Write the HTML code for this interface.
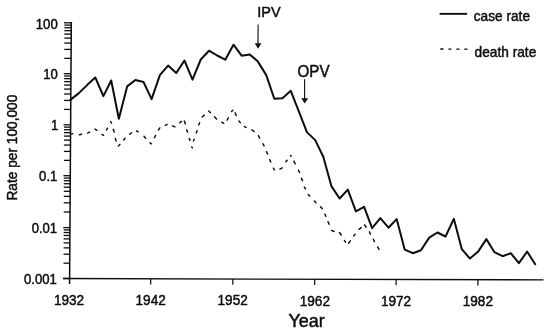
<!DOCTYPE html>
<html><head><meta charset="utf-8"><title>Polio rates</title>
<style>
html,body{margin:0;padding:0;background:#fff;}
svg{display:block;}
text{font-family:"Liberation Sans",sans-serif;fill:#0d0d0d;stroke:#0d0d0d;stroke-width:0.45px;stroke-linejoin:round;}
</style></head>
<body>
<svg width="550" height="334" viewBox="0 0 550 334">
<rect width="550" height="334" fill="#fff"/>
<g stroke="#0d0d0d" fill="none">
<line x1="71.3" y1="22.3" x2="69.57" y2="284.0" stroke-width="1.5"/>
<line x1="63.1" y1="278.55" x2="543.5" y2="279.9" stroke-width="1.4"/>
<g stroke-width="1.3"><line x1="63.08" y1="278.50" x2="69.60" y2="278.50"/><line x1="63.53" y1="263.18" x2="69.70" y2="263.18"/><line x1="63.56" y1="254.21" x2="69.76" y2="254.21"/><line x1="63.58" y1="247.86" x2="69.80" y2="247.86"/><line x1="63.60" y1="242.92" x2="69.84" y2="242.92"/><line x1="63.62" y1="238.89" x2="69.86" y2="238.89"/><line x1="63.63" y1="235.48" x2="69.89" y2="235.48"/><line x1="63.64" y1="232.53" x2="69.91" y2="232.53"/><line x1="63.65" y1="229.93" x2="69.92" y2="229.93"/><line x1="63.25" y1="227.60" x2="69.94" y2="227.60"/><line x1="63.71" y1="211.98" x2="70.04" y2="211.98"/><line x1="63.74" y1="202.84" x2="70.10" y2="202.84"/><line x1="63.76" y1="196.35" x2="70.15" y2="196.35"/><line x1="63.78" y1="191.32" x2="70.18" y2="191.32"/><line x1="63.79" y1="187.21" x2="70.21" y2="187.21"/><line x1="63.80" y1="183.74" x2="70.23" y2="183.74"/><line x1="63.81" y1="180.73" x2="70.25" y2="180.73"/><line x1="63.82" y1="178.07" x2="70.27" y2="178.07"/><line x1="63.43" y1="175.70" x2="70.28" y2="175.70"/><line x1="63.88" y1="160.38" x2="70.39" y2="160.38"/><line x1="63.91" y1="151.41" x2="70.45" y2="151.41"/><line x1="63.93" y1="145.06" x2="70.49" y2="145.06"/><line x1="63.95" y1="140.12" x2="70.52" y2="140.12"/><line x1="63.96" y1="136.09" x2="70.55" y2="136.09"/><line x1="63.98" y1="132.68" x2="70.57" y2="132.68"/><line x1="63.99" y1="129.73" x2="70.59" y2="129.73"/><line x1="64.00" y1="127.13" x2="70.61" y2="127.13"/><line x1="63.60" y1="124.80" x2="70.62" y2="124.80"/><line x1="64.06" y1="109.42" x2="70.72" y2="109.42"/><line x1="64.09" y1="100.42" x2="70.78" y2="100.42"/><line x1="64.11" y1="94.03" x2="70.83" y2="94.03"/><line x1="64.12" y1="89.08" x2="70.86" y2="89.08"/><line x1="64.14" y1="85.04" x2="70.89" y2="85.04"/><line x1="64.15" y1="81.62" x2="70.91" y2="81.62"/><line x1="64.16" y1="78.65" x2="70.93" y2="78.65"/><line x1="64.17" y1="76.04" x2="70.95" y2="76.04"/><line x1="63.78" y1="73.70" x2="70.96" y2="73.70"/><line x1="64.23" y1="58.38" x2="71.06" y2="58.38"/><line x1="64.26" y1="49.41" x2="71.12" y2="49.41"/><line x1="64.28" y1="43.06" x2="71.17" y2="43.06"/><line x1="64.30" y1="38.12" x2="71.20" y2="38.12"/><line x1="64.31" y1="34.09" x2="71.22" y2="34.09"/><line x1="64.32" y1="30.68" x2="71.25" y2="30.68"/><line x1="64.33" y1="27.73" x2="71.27" y2="27.73"/><line x1="64.34" y1="25.13" x2="71.28" y2="25.13"/><line x1="63.95" y1="22.80" x2="72.05" y2="22.80"/></g>
<g stroke-width="1.2"><line x1="150.70" y1="278.80" x2="150.67" y2="284.60"/><line x1="232.80" y1="279.03" x2="232.77" y2="284.83"/><line x1="314.70" y1="279.26" x2="314.67" y2="285.06"/><line x1="396.10" y1="279.49" x2="396.07" y2="285.29"/><line x1="477.90" y1="279.72" x2="477.87" y2="285.52"/></g>
</g>
<g><text transform="translate(35.82,28.84) scale(1,1.06)" font-size="13.1px" >100</text><text transform="translate(43.16,79.24) scale(1,1.06)" font-size="13.1px" >10</text><text transform="translate(50.99,130.18) scale(1,1.06)" font-size="13.1px" >1</text><text transform="translate(39.12,181.34) scale(1,1.06)" font-size="13.1px" >0.1</text><text transform="translate(31.68,232.54) scale(1,1.06)" font-size="13.1px" >0.01</text><text transform="translate(23.98,284.14) scale(1,1.06)" font-size="13.1px" >0.001</text><text transform="translate(53.94,304.63) scale(1,1.05)" font-size="13.6px" >1932</text><text transform="translate(135.54,304.93) scale(1,1.05)" font-size="13.6px" >1942</text><text transform="translate(217.54,305.23) scale(1,1.05)" font-size="13.6px" >1952</text><text transform="translate(299.74,305.53) scale(1,1.05)" font-size="13.6px" >1962</text><text transform="translate(380.94,305.63) scale(1,1.05)" font-size="13.6px" >1972</text><text transform="translate(462.74,305.83) scale(1,1.05)" font-size="13.6px" >1982</text></g>
<text transform="translate(17.2,200.6) rotate(-90) scale(1,1.06)" font-size="13.72px">Rate per 100,000</text>
<text transform="translate(288.49,326.78) scale(1,1.06)" font-size="18.0px" >Year</text>
<text transform="translate(257.32,17.47) scale(1,1.07)" font-size="14.55px" >IPV</text>
<text transform="translate(297.47,76.62) scale(1,1.045)" font-size="15.2px" >OPV</text>
<g stroke="#0d0d0d" stroke-width="1.1" fill="#0d0d0d">
<line x1="258.1" y1="24.5" x2="258.0" y2="44"/><polygon points="254.8,43.2 261.4,43.2 258.1,48.8" stroke="none"/>
<line x1="304.6" y1="79.2" x2="304.6" y2="99"/><polygon points="301.3,98.2 308.1,98.2 304.7,103.6" stroke="none"/>
</g>
<polyline points="70.69,99.6 78.89,93.1 87.10,85.1 95.30,77.5 103.37,96.1 111.21,80.5 118.84,118.7 127.16,86.4 135.36,80.0 143.51,82.0 151.59,99.1 159.87,75.1 168.08,65.6 176.21,73.1 184.44,60.5 192.50,79.6 200.77,59.5 208.98,50.7 217.12,55.5 225.26,59.7 233.50,44.7 241.61,55.7 249.78,54.5 257.91,61.6 266.25,75.1 274.30,98.8 282.47,98.2 290.77,90.8 298.83,111.3 306.89,132.1 315.21,140.1 323.29,156.8 331.51,186.4 339.62,198.5 347.82,189.6 355.88,211.3 364.07,206.8 372.12,228.1 380.33,218.1 388.45,227.7 396.66,219.1 404.67,249.6 412.81,253.2 420.99,250.2 429.22,237.6 437.41,232.5 445.55,236.5 453.81,218.8 461.82,249.2 469.94,258.6 478.13,251.6 486.36,239.1 494.46,252.2 502.60,256.2 510.78,253.2 518.90,263.2 527.12,251.6 535.22,264.2" fill="none" stroke="#0d0d0d" stroke-width="2" stroke-linejoin="round" stroke-linecap="round"/>
<g fill="none" stroke="#0d0d0d" stroke-width="1.45" stroke-linejoin="round" stroke-linecap="round"><polyline points="71.61,133.77 72.65,133.77"/><polyline points="79.50,134.79 81.57,134.24"/><polyline points="87.53,133.03 89.51,132.04"/><polyline points="95.08,129.13 96.96,130.34"/><polyline points="102.01,134.39 103.54,135.30"/><polyline points="106.43,130.00 107.52,128.15"/><polyline points="110.58,121.54 111.61,123.10"/><polyline points="113.25,129.35 114.21,132.10"/><polyline points="115.24,138.41 116.18,141.00"/><polyline points="118.42,145.92 119.92,144.53"/><polyline points="123.65,139.95 125.07,138.31"/><polyline points="129.65,134.26 131.58,132.79"/><polyline points="136.59,130.78 138.15,131.82"/><polyline points="143.99,136.33 145.73,138.30"/><polyline points="150.00,142.82 151.41,143.83"/><polyline points="154.29,137.75 155.70,135.40"/><polyline points="158.43,130.02 159.79,127.97"/><polyline points="165.21,125.31 167.17,124.44"/><polyline points="172.62,125.78 174.93,126.94"/><polyline points="179.66,122.75 181.56,121.40"/><polyline points="184.35,121.11 185.43,123.87"/><polyline points="186.66,129.84 187.57,132.11"/><polyline points="189.15,138.39 190.02,140.35"/><polyline points="191.74,147.05 192.37,147.84"/><polyline points="193.42,141.01 194.16,139.22"/><polyline points="196.22,132.93 197.13,130.66"/><polyline points="198.69,125.02 199.60,122.75"/><polyline points="202.20,116.95 204.32,115.18"/><polyline points="208.76,111.10 210.45,112.79"/><polyline points="214.51,116.87 216.56,119.04"/><polyline points="221.79,122.19 223.64,123.28"/><polyline points="227.17,120.10 228.32,117.79"/><polyline points="231.59,111.47 232.79,110.27"/><polyline points="235.05,112.86 236.25,115.48"/><polyline points="238.96,121.02 240.25,122.63"/><polyline points="244.39,126.59 246.19,127.44"/><polyline points="251.76,129.95 254.14,131.50"/><polyline points="258.45,135.59 259.64,138.21"/><polyline points="263.01,143.78 264.12,145.78"/><polyline points="266.45,151.69 267.60,154.01"/><polyline points="269.72,159.78 270.75,162.07"/><polyline points="273.40,168.15 274.49,170.00"/><polyline points="279.87,169.08 282.19,167.92"/><polyline points="285.82,161.81 287.11,160.20"/><polyline points="290.50,155.52 291.16,156.11"/><polyline points="293.93,161.10 295.14,163.88"/><polyline points="298.41,170.15 299.56,172.46"/><polyline points="301.37,178.38 302.53,180.69"/><polyline points="304.34,187.06 305.43,188.92"/><polyline points="308.23,194.41 309.78,196.07"/><polyline points="314.33,200.98 316.03,202.68"/><polyline points="320.57,206.77 322.31,208.75"/><polyline points="324.84,214.07 325.87,216.36"/><polyline points="327.97,221.65 329.16,224.27"/><polyline points="331.54,230.42 333.99,231.47"/><polyline points="339.43,232.47 341.26,235.03"/><polyline points="344.40,240.43 345.57,242.14"/><polyline points="348.66,243.27 350.29,240.81"/><polyline points="353.79,235.87 355.08,234.26"/><polyline points="359.13,229.35 361.10,227.60"/><polyline points="364.60,224.85 366.20,227.24"/><polyline points="369.34,231.85 370.50,234.16"/><polyline points="373.29,239.26 374.45,241.58"/><polyline points="377.61,246.99 379.03,249.34"/></g>
<line x1="439.6" y1="13.85" x2="467.1" y2="13.85" stroke="#0d0d0d" stroke-width="1.9"/>
<line x1="440.8" y1="49.0" x2="468.0" y2="49.2" stroke="#0d0d0d" stroke-width="1.35" stroke-dasharray="2.2 5.8" stroke-linecap="round"/>
<text transform="translate(473.68,21.33) scale(1,1.04)" font-size="13.7px" >case rate</text>
<text transform="translate(474.58,56.83) scale(1,1.06)" font-size="13.7px" >death rate</text>
</svg>
</body></html>
